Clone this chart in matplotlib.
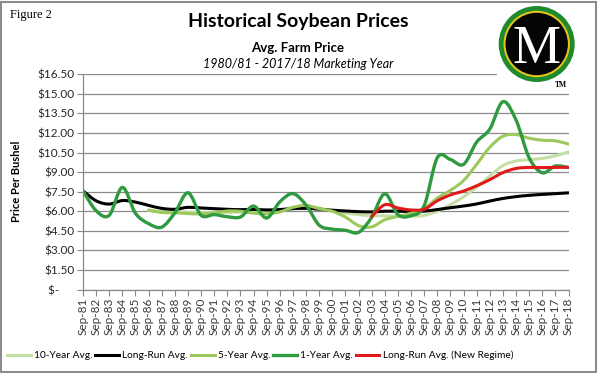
#!/usr/bin/env python3
"""Historical soybean prices (avg. farm price) with smoothed Excel-style lines."""

import matplotlib

matplotlib.use("Agg")
import matplotlib.pyplot as plt
import numpy as np
from matplotlib.lines import Line2D
from matplotlib.patches import Circle, PathPatch, Rectangle
from matplotlib.path import Path

plt.rcParams["font.family"] = ["Lato", "DejaVu Sans"]

# ---- data --------------------------------------------------------------------
labels = [
    "Sep-81", "Sep-82", "Sep-83", "Sep-84", "Sep-85", "Sep-86", "Sep-87", "Sep-88",
    "Sep-89", "Sep-90", "Sep-91", "Sep-92", "Sep-93", "Sep-94", "Sep-95", "Sep-96",
    "Sep-97", "Sep-98", "Sep-99", "Sep-00", "Sep-01", "Sep-02", "Sep-03", "Sep-04",
    "Sep-05", "Sep-06", "Sep-07", "Sep-08", "Sep-09", "Sep-10", "Sep-11", "Sep-12",
    "Sep-13", "Sep-14", "Sep-15", "Sep-16", "Sep-17", "Sep-18",
]

one_year = [
    7.57, 6.04, 5.69, 7.83, 5.84, 5.05, 4.78, 5.88, 7.42, 5.69,
    5.74, 5.58, 5.56, 6.40, 5.48, 6.72, 7.35, 6.47, 4.93, 4.63,
    4.54, 4.38, 5.53, 7.34, 5.74, 5.66, 6.43, 10.10, 9.97, 9.59,
    11.30, 12.30, 14.40, 13.00, 10.10, 8.95, 9.47, 9.35,
]

long_run = [
    7.57, 6.80, 6.55, 6.82, 6.70, 6.45, 6.22, 6.15, 6.30, 6.25,
    6.20, 6.15, 6.12, 6.14, 6.10, 6.13, 6.20, 6.22, 6.16, 6.08,
    6.02, 5.97, 5.95, 6.00, 6.00, 5.99, 6.01, 6.13, 6.27, 6.40,
    6.56, 6.78, 6.98, 7.12, 7.22, 7.29, 7.35, 7.41,
]

five_year = [
    None, None, None, None, None, 6.10, 5.90, 5.88, 5.82, 5.80,
    5.88, 6.02, 6.00, 5.85, 5.80, 5.95, 6.30, 6.45, 6.20, 6.00,
    5.55, 4.90, 4.80, 5.35, 5.60, 5.85, 6.20, 7.00, 7.60, 8.35,
    9.60, 10.90, 11.75, 11.88, 11.60, 11.45, 11.40, 11.15,
]

ten_year = [
    None, None, None, None, None, 6.05, 6.00, 5.95, 5.92, 5.90,
    5.90, 5.92, 5.93, 5.95, 5.95, 6.05, 6.30, 6.40, 6.25, 6.00,
    5.85, 5.75, 5.65, 5.65, 5.62, 5.62, 5.68, 6.00, 6.50, 7.10,
    7.85, 8.70, 9.50, 9.85, 9.95, 10.05, 10.25, 10.55,
]

new_regime = [
    None, None, None, None, None, None, None, None, None, None,
    None, None, None, None, None, None, None, None, None, None,
    None, None, 5.60, 6.50, 6.25, 6.10, 6.15, 6.80, 7.25, 7.55,
    7.95, 8.42, 8.96, 9.28, 9.36, 9.35, 9.36, 9.37,
]

series = [
    ("10-Year Avg.", ten_year, "#c4dfa4", 2.2),
    ("Long-Run Avg.", long_run, "#000000", 2.2),
    ("5-Year Avg.", five_year, "#9cc95c", 2.2),
    ("1-Year Avg.", one_year, "#2f9a3f", 2.4),
    ("Long-Run Avg. (New Regime)", new_regime, "#e01a1a", 2.2),
]


def smooth_path(xs, ys):
    """Bezier path through the points, like Excel's smoothed line."""
    verts = [(xs[0], ys[0])]
    codes = [Path.MOVETO]
    n = len(xs)
    for i in range(n - 1):
        a = max(i - 1, 0)
        b = min(i + 2, n - 1)
        c1 = (xs[i] + (xs[i + 1] - xs[a]) / 6, ys[i] + (ys[i + 1] - ys[a]) / 6)
        c2 = (xs[i + 1] - (xs[b] - xs[i]) / 6, ys[i + 1] - (ys[b] - ys[i]) / 6)
        verts += [c1, c2, (xs[i + 1], ys[i + 1])]
        codes += [Path.CURVE4] * 3
    return Path(verts, codes)


W, H = 598, 373
fig = plt.figure(figsize=(W / 100, H / 100), dpi=100)

# ---- main axes ---------------------------------------------------------------
left, right, top, bottom = 83, 568.5, 74.3, 289.5
ax = fig.add_axes([left / W, 1 - bottom / H, (right - left) / W, (bottom - top) / H])

grey = "#8a8a8a"
ax.set_xlim(0, len(labels) - 1)
ax.set_ylim(0, 16.5)
yt = np.arange(0, 16.51, 1.5)
ax.set_yticks(yt)
ax.set_yticklabels([f"${v:.2f}" if v > 0 else "$-     " for v in yt], fontsize=8.5, color="#262626")
ax.set_xticks(range(len(labels)))
ax.set_xticklabels(labels, rotation=90, fontsize=8.5, color="#3a3a3a")
ax.yaxis.grid(True, color=grey, lw=0.9)
ax.set_axisbelow(True)
for s in ("top", "right"):
    ax.spines[s].set_visible(False)
for s in ("left", "bottom"):
    ax.spines[s].set_color(grey)
    ax.spines[s].set_linewidth(0.9)
ax.tick_params(axis="both", direction="out", length=4, width=0.8, color=grey, pad=2)

handles = []
for name, vals, color, lw in series:
    idx = [i for i, v in enumerate(vals) if v is not None]
    xs = np.array(idx, dtype=float)
    ys = np.array([vals[i] for i in idx], dtype=float)
    ax.add_patch(PathPatch(smooth_path(xs, ys), facecolor="none", edgecolor=color,
                           lw=lw, capstyle="round", joinstyle="round"))
    handles.append(Line2D([], [], color=color, lw=lw, label=name))

fig.legend(handles=handles, loc="center left", bbox_to_anchor=(7 / W, 1 - 355.7 / H),
           ncol=5, frameon=False, fontsize=7.3, handlelength=2.35, handletextpad=0.3,
           columnspacing=0.3, borderaxespad=0, borderpad=0)

# ---- titles ------------------------------------------------------------------
cx = 298 / W
fig.text(cx, 1 - 22 / H, "Historical Soybean Prices", fontsize=14, fontweight="bold",
         ha="center", va="center")
fig.text(cx, 1 - 47.5 / H, "Avg. Farm Price", fontsize=9.5, fontweight="bold",
         ha="center", va="center")
fig.text(cx, 1 - 64 / H, "1980/81 - 2017/18 Marketing Year", fontsize=9, style="italic",
         ha="center", va="center")
fig.text(10 / W, 1 - 15 / H, "Figure 2", family="Liberation Serif", fontsize=9, va="center")
fig.text(17 / W, 1 - 181.5 / H, "Price Per Bushel", rotation=90, fontsize=8,
         fontweight="bold", ha="center", va="center")

# ---- logo --------------------------------------------------------------------
lax = fig.add_axes([497 / W, 1 - 88 / H, 78 / W, 86 / H])
lax.set_xlim(0, 78)
lax.set_ylim(0, 86)
lax.set_xticks([])
lax.set_yticks([])
for s in lax.spines.values():
    s.set_visible(False)
lax.set_facecolor("white")
c = (39.7, 44)
lax.add_patch(Circle(c, 37.3, color="#1f8a2c"))
lax.add_patch(Circle(c, 32.5, color="#e8c61c"))
lax.add_patch(Circle(c, 30.5, color="#050505"))
lax.text(c[0], 24.7, "M", family="Liberation Serif", fontsize=39, color="white",
         ha="center", va="baseline")
fig.text(561 / W, 1 - 85 / H, "TM", family="Liberation Serif", fontsize=5.5,
         fontweight="bold", ha="center", va="center")

# ---- outer frame -------------------------------------------------------------
fig.add_artist(Rectangle((1 / W, 1 / H), (W - 3) / W, (H - 3) / H, transform=fig.transFigure,
                         fill=False, edgecolor="#8c8c8c", lw=1.5, zorder=10))

fig.savefig("out.png", dpi=100)
